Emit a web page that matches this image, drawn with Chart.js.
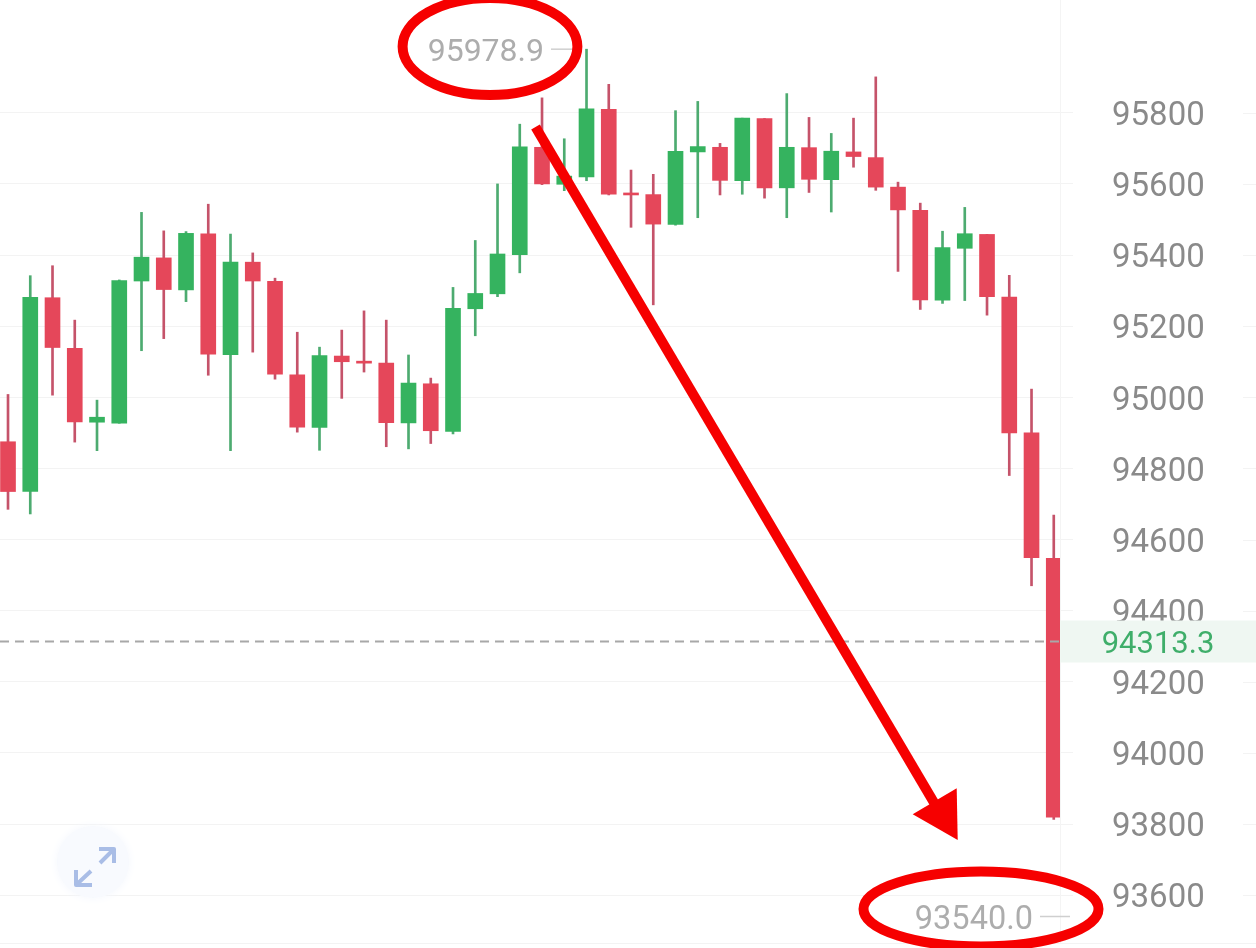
<!DOCTYPE html>
<html>
<head>
<meta charset="utf-8">
<script src="https://cdn.jsdelivr.net/npm/chart.js@4"></script>
<style>
html, body { margin: 0; padding: 0; background: #fff; overflow: hidden; }
canvas { display: block; }
</style>
</head>
<body>
<canvas id="chart" width="1256" height="948"></canvas>
<script>
// --- Candle values ---
const opens = [94875,94735,95280,95138,94930,94927,95327,95392,95302,95460,95120,95380,95326,95063,94915,95116,95099,95096,94928,95038,94904,95249,95291,95401,95703,95599,95620,95810,95572,95570,95486,95690,95703,95609,95784,95589,95702,95612,95690,95674,95591,95526,95273,95419,95458,95282,94900,94547];
const closes = [94735,95281,95140,94931,94944,95328,95394,95303,95461,95121,95380,95327,95065,94916,95117,95100,95096,94929,95040,94906,95250,95292,95403,95704,95600,95622,95811,95571,95569,95487,95692,95705,95610,95785,95589,95703,95613,95692,95677,95591,95527,95274,95421,95460,95283,94900,94549,93819];
const highs = [95008,95342,95370,95217,94992,95330,95520,95468,95466,95543,95459,95406,95335,95183,95141,95189,95243,95217,95119,95054,95309,95441,95600,95768,95842,95727,95978.9,95880,95639,95627,95806,95832,95714,95785,95784,95854,95787,95742,95785,95901,95605,95546,95467,95534,95458,95343,95023,94669];
const lows = [94685,94672,95006,94874,94850,94927,95131,95165,95269,95062,94850,95127,95051,94902,94851,94997,95071,94861,94855,94870,94897,95173,95283,95350,95598,95581,95609,95569,95478,95260,95484,95505,95569,95571,95560,95505,95576,95521,95647,95582,95354,95247,95264,95272,95231,94780,94470,93813];

const tickValues = [93600,93800,94000,94200,94400,94600,94800,95000,95200,95400,95600,95800];
const lastPrice = 94313.3;
const highPrice = 95978.9;
const lowPrice = 93540.0;

const RED = "#e5475a", GREEN = "#35b35f";
const RED_WICK = "#c5536a", GREEN_WICK = "#4dab70";
const GRID = "#f3f3f3";

const colorOf = (arr, up, down) => opens.map((o, i) => closes[i] >= o ? up : down);

// --- Everything that sits on top of the candles ---
const overlay = {
    id: "overlay",
    afterDraw(chart) {
        const ctx = chart.ctx;
        const y = chart.scales.y;
        const right = chart.chartArea.right;
        ctx.save();

        // gridlines carry on past the label column
        ctx.strokeStyle = GRID;
        ctx.lineWidth = 1;
        tickValues.forEach(v => {
            const py = Math.round(y.getPixelForValue(v)) + 0.5;
            ctx.beginPath(); ctx.moveTo(1243, py); ctx.lineTo(1256, py); ctx.stroke();
        });
        ctx.beginPath(); ctx.moveTo(0, 943.5); ctx.lineTo(1256, 943.5); ctx.stroke();

        // last price line and tag
        const lastY = y.getPixelForValue(lastPrice);
        ctx.strokeStyle = "#a8a8a8";
        ctx.lineWidth = 2;
        ctx.setLineDash([9, 6]);
        ctx.beginPath(); ctx.moveTo(0, lastY); ctx.lineTo(right, lastY); ctx.stroke();
        ctx.setLineDash([]);
        ctx.fillStyle = "#eff7f2";
        ctx.fillRect(right, lastY - 21, 1256 - right, 42);
        ctx.fillStyle = "#3fae6a";
        ctx.font = "31px Roboto";
        ctx.textAlign = "center";
        ctx.textBaseline = "middle";
        ctx.fillText(lastPrice.toFixed(1), 1158, lastY + 4);

        // high and low markers
        const highY = y.getPixelForValue(highPrice);
        const lowY = y.getPixelForValue(lowPrice);
        ctx.fillStyle = "#adadad";
        ctx.textAlign = "right";
        ctx.font = "32px Roboto";
        ctx.fillText(highPrice.toFixed(1), 544, highY + 4);
        ctx.font = "32.5px Roboto";
        ctx.fillText(lowPrice.toFixed(1), 1033, lowY + 4);
        ctx.strokeStyle = "#cfcfcf";
        ctx.lineWidth = 1.5;
        ctx.beginPath(); ctx.moveTo(551, highY); ctx.lineTo(575, highY); ctx.stroke();
        ctx.beginPath(); ctx.moveTo(1040, lowY); ctx.lineTo(1070, lowY); ctx.stroke();

        // expand button
        ctx.save();
        ctx.shadowColor = "#f4f7fd";
        ctx.shadowBlur = 10;
        ctx.fillStyle = "#f8fafe";
        ctx.beginPath(); ctx.arc(93, 862, 36, 0, Math.PI * 2); ctx.fill();
        ctx.restore();
        ctx.strokeStyle = "#a9bde6";
        ctx.lineWidth = 4;
        ctx.lineJoin = "round";
        ctx.beginPath();
        ctx.moveTo(99, 849); ctx.lineTo(114, 849); ctx.lineTo(114, 863);
        ctx.moveTo(114, 849); ctx.lineTo(100, 863);
        ctx.moveTo(76, 870); ctx.lineTo(76, 885); ctx.lineTo(92, 885);
        ctx.moveTo(76, 885); ctx.lineTo(91, 871);
        ctx.stroke();

        // hand drawn red ellipses and arrow
        ctx.strokeStyle = "#f60000";
        ctx.fillStyle = "#f60000";
        ctx.lineWidth = 10;
        ctx.beginPath(); ctx.ellipse(490, 46.5, 87.4, 48.5, 0, 0, Math.PI * 2); ctx.stroke();
        ctx.beginPath(); ctx.ellipse(981, 909, 117.5, 37.5, 0, 0, Math.PI * 2); ctx.stroke();
        ctx.lineCap = "butt";
        ctx.beginPath(); ctx.moveTo(535.5, 127); ctx.lineTo(936, 806); ctx.stroke();
        ctx.beginPath(); ctx.moveTo(957.7, 840); ctx.lineTo(912.7, 814.3); ctx.lineTo(956.7, 788.3); ctx.closePath(); ctx.fill();

        ctx.restore();
    }
};

new Chart(document.getElementById("chart"), {
    type: "bar",
    data: {
        datasets: [
            {
                label: "Body",
                data: opens.map((o, i) => ({ x: i, y: [o, closes[i]] })),
                backgroundColor: colorOf(opens, GREEN, RED),
                barThickness: 15,
                minBarLength: 2
            },
            {
                label: "Wick",
                data: highs.map((h, i) => ({ x: i, y: [lows[i], h] })),
                backgroundColor: colorOf(opens, GREEN_WICK, RED_WICK),
                barThickness: 2
            }
        ]
    },
    options: {
        responsive: false,
        animation: false,
        events: [],
        grouped: false,
        layout: { padding: { bottom: 5 } },
        plugins: { legend: { display: false }, tooltip: { enabled: false } },
        scales: {
            x: {
                type: "linear",
                display: false,
                offset: false,
                min: -0.36,
                max: 47.28
            },
            y: {
                position: "right",
                min: 93465.5,
                max: 96117.2,
                afterBuildTicks(scale) {
                    scale.ticks = tickValues.map(v => ({ value: v }));
                },
                afterFit(scale) {
                    scale.width = 196;
                    scale.paddingTop = 0;
                    scale.paddingBottom = 0;
                },
                grid: { color: GRID, tickColor: GRID, tickLength: 13, lineWidth: 1 },
                border: { color: "#f4f4f4" },
                ticks: {
                    padding: 39,
                    labelOffset: 4,
                    color: "#8a8a8a",
                    font: { family: "Roboto", size: 33 },
                    callback: v => String(v)
                }
            }
        }
    },
    plugins: [overlay]
});
</script>
</body>
</html>
